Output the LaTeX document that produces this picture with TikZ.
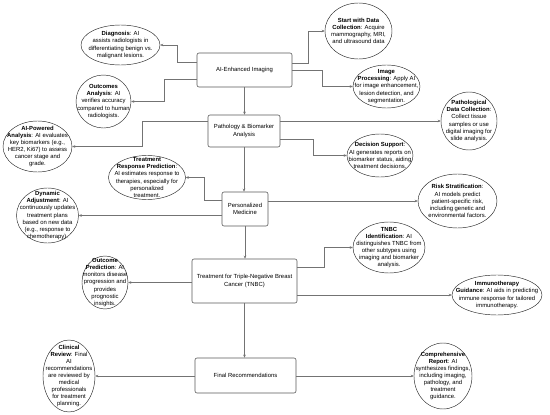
\documentclass[tikz,border=0pt]{standalone}
\usepackage{fontspec}
\setmainfont{Liberation Sans}
\usetikzlibrary{arrows.meta,shapes.geometric}
\begin{document}
\begin{tikzpicture}[x=1pt,y=-1pt,
  font=\fontsize{5.9}{7.1}\selectfont,
  box/.style={draw=black!65, line width=0.6pt, rounded corners=2pt, fill=white, align=center, inner sep=2pt},
  oval/.style={draw=black!85, line width=0.45pt, ellipse, inner sep=0pt},
  txt/.style={align=center, inner sep=0pt},
  arr/.style={draw=black!55, line width=0.45pt, -{Stealth[length=3pt,width=2.6pt]}}]
\useasboundingbox (0,0) rectangle (550,415);
% boxes
\node[box, minimum width=95pt, minimum height=34pt] (ai) at (244.5,70) {AI-Enhanced Imaging};
\node[box, minimum width=72pt, minimum height=32pt] (path) at (244,131) {Pathology \& Biomarker\\Analysis};
\node[box, minimum width=46pt, minimum height=34pt] (pers) at (245,209) {Personalized\\Medicine};
\node[box, minimum width=105pt, minimum height=44pt] (tnbc) at (244.5,281) {Treatment for Triple-Negative Breast\\Cancer (TNBC)};
\node[box, minimum width=101pt, minimum height=35pt] (final) at (245.5,375.5) {Final Recommendations};
% ellipses
\node[oval, minimum width=79pt, minimum height=40pt] (diag) at (120.5,45) {};
\node[txt] (diagt) at (diag.center) {\textbf{Diagnosis}: AI\\assists radiologists in\\differentiating benign vs.\\malignant lesions.};
\node[oval, minimum width=55pt, minimum height=53pt] (outc) at (103.5,101.5) {};
\node[txt] (outct) at (outc.center) {\textbf{Outcomes}\\\textbf{Analysis}: AI\\verifies accuracy\\compared to human\\radiologists.};
\node[oval, minimum width=67pt, minimum height=56pt] (start) at (358.5,31) {};
\node[txt] (startt) at (start.center) {\textbf{Start with Data}\\\textbf{Collection}: Acquire\\mammography, MRI,\\and ultrasound data};
\node[oval, minimum width=67pt, minimum height=43pt] (imgp) at (386.5,86.5) {};
\node[txt] (imgpt) at (imgp.center) {\textbf{Image}\\\textbf{Processing}: Apply AI\\for image enhancement,\\lesion detection, and\\segmentation.};
\node[oval, minimum width=56pt, minimum height=58pt] (pdat) at (469,121) {};
\node[txt] (pdatt) at (pdat.center) {\textbf{Pathological}\\\textbf{Data Collection}:\\Collect tissue\\samples or use\\digital imaging for\\slide analysis.};
\node[oval, minimum width=69pt, minimum height=51pt] (aipw) at (37.5,146.5) {};
\node[txt] (aipwt) at (aipw.center) {\textbf{AI-Powered}\\\textbf{Analysis}: AI evaluates\\key biomarkers (e.g.,\\HER2, Ki67) to assess\\cancer stage and\\grade.};
\node[oval, minimum width=66pt, minimum height=43pt] (dec) at (380,155.5) {};
\node[txt] (dect) at (dec.center) {\textbf{Decision Support}:\\AI generates reports on\\biomarker status, aiding\\treatment decisions.};
\node[oval, minimum width=77pt, minimum height=44pt] (trp) at (147,177.5) {};
\node[txt] (trpt) at (trp.center) {\textbf{Treatment}\\\textbf{Response Prediction}:\\AI estimates response to\\therapies, especially for\\personalized\\treatment.};
\node[oval, minimum width=62pt, minimum height=55pt] (dyn) at (47.5,215.5) {};
\node[txt] (dynt) at (dyn.center) {\textbf{Dynamic}\\\textbf{Adjustment}: AI\\continuously updates\\treatment plans\\based on new data\\(e.g., response to\\chemotherapy).};
\node[oval, minimum width=79pt, minimum height=54pt] (risk) at (457.5,201) {};
\node[txt] (riskt) at (risk.center) {\textbf{Risk Stratification}:\\AI models predict\\patient-specific risk,\\including genetic and\\environmental factors.};
\node[oval, minimum width=72pt, minimum height=51pt] (tid) at (389,247.5) {};
\node[txt] (tidt) at (tid.center) {\textbf{TNBC}\\\textbf{Identification}: AI\\distinguishes TNBC from\\other subtypes using\\imaging and biomarker\\analysis.};
\node[oval, minimum width=90pt, minimum height=40pt] (imm) at (497,295) {};
\node[txt] (immt) at (imm.center) {\textbf{Immunotherapy}\\\textbf{Guidance}: AI aids in predicting\\immune response for tailored\\immunotherapy.};
\node[oval, minimum width=46pt, minimum height=53pt] (outp) at (105,282.5) {};
\node[txt] (outpt) at (outp.center) {\textbf{Outcome}\\\textbf{Prediction}: AI\\monitors disease\\progression and\\provides\\prognostic\\insights.};
\node[oval, minimum width=52pt, minimum height=72pt] (clin) at (69,376) {};
\node[txt] (clint) at (clin.center) {\textbf{Clinical}\\\textbf{Review}: Final\\AI\\recommendations\\are reviewed by\\medical\\professionals\\for treatment\\planning.};
\node[oval, minimum width=58pt, minimum height=66pt] (comp) at (443,376) {};
\node[txt] (compt) at (comp.center) {\textbf{Comprehensive}\\\textbf{Report}: AI\\synthesizes findings,\\including imaging,\\pathology, and\\treatment\\guidance.};
% connectors
\draw[arr] ([yshift=8pt]ai.west) -- ++(-19,0) |- (diag.east);
\draw[arr] ([yshift=-9pt]ai.west) -- ++(-32,0) |- (outc.east);
\draw[arr] ([yshift=7pt]ai.east) -- ++(16,0) |- (start.west);
\draw[arr] (ai.east) -- ++(30,0) |- (imgp.west);
\draw[arr] (ai.south) -- (ai.south |- path.north);
\draw[arr] (path.east |- pdat.west) -- (pdat.west);
\draw[arr] ([yshift=10pt]path.west) -- ++(-65,0) |- (aipw.east);
\draw[arr] ([yshift=-8pt]path.east) -- ++(33,0) |- (dec.west);
\draw[arr] (path.south) -- (path.south |- pers.north);
\draw[arr] ([yshift=9pt]pers.west) -- ++(-17,0) |- (trp.east);
\draw[arr] (pers.west |- dyn.east) -- (dyn.east);
\draw[arr] (pers.east |- risk.west) -- (risk.west);
\draw[arr] (pers.south) -- (pers.south |- tnbc.north);
\draw[arr] ([yshift=14pt]tnbc.east) -- ++(27,0) |- (tid.west);
\draw[arr] (tnbc.east |- imm.west) -- (imm.west);
\draw[arr] (tnbc.west |- outp.east) -- (outp.east);
\draw[arr] (tnbc.south) -- (tnbc.south |- final.north);
\draw[arr] (final.west |- clin.east) -- (clin.east);
\draw[arr] (final.east |- comp.west) -- (comp.west);
\end{tikzpicture}
\end{document}
